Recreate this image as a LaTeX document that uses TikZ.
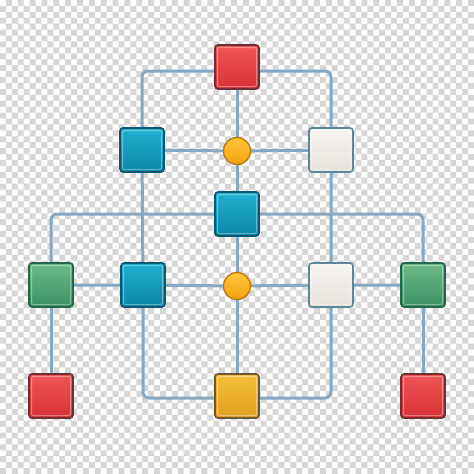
\documentclass[tikz,border=0pt]{standalone}
\usetikzlibrary{backgrounds}
\definecolor{chk}{HTML}{D6D6D6}
\definecolor{wire}{HTML}{86A8C2}
\definecolor{tealT}{HTML}{22B0CF}\definecolor{tealB}{HTML}{0C86A6}\definecolor{tealD}{HTML}{0D5870}
\definecolor{redT}{HTML}{F05555}\definecolor{redB}{HTML}{D83236}\definecolor{redD}{HTML}{6E2E36}
\definecolor{whT}{HTML}{F7F5F1}\definecolor{whB}{HTML}{E6E2DA}\definecolor{whD}{HTML}{5E8598}
\definecolor{grT}{HTML}{6DBB86}\definecolor{grB}{HTML}{3C9066}\definecolor{grD}{HTML}{24664C}
\definecolor{yeT}{HTML}{F4C23A}\definecolor{yeB}{HTML}{E19E1E}\definecolor{yeD}{HTML}{6A5638}
\definecolor{orT}{HTML}{FFC83A}\definecolor{orB}{HTML}{F2A012}\definecolor{orD}{HTML}{BE7A12}
\tikzset{
  x=1pt,y=-1pt,
  sq/.style={rectangle,minimum size=44pt,inner sep=0pt,rounded corners=3pt,line width=1.6pt,
    path picture={\draw[white,opacity=0.35,line width=1pt,rounded corners=2pt]
      ([shift={(2.5pt,-2.5pt)}]path picture bounding box.north west) rectangle
      ([shift={(-2.5pt,2.5pt)}]path picture bounding box.south east);}},
  tealbox/.style={sq,draw=tealD,top color=tealT,bottom color=tealB},
  redbox/.style={sq,draw=redD,top color=redT,bottom color=redB},
  whitebox/.style={sq,draw=whD,top color=whT,bottom color=whB},
  greenbox/.style={sq,draw=grD,top color=grT,bottom color=grB},
  yellowbox/.style={sq,draw=yeD,top color=yeT,bottom color=yeB},
  dot/.style={circle,minimum size=27pt,inner sep=0pt,line width=1.4pt,draw=orD,top color=orT,bottom color=orB},
  wireline/.style={draw=wire,line width=3pt,rounded corners=6pt,line cap=round},
}
\begin{document}
\begin{tikzpicture}
\useasboundingbox (0,0) rectangle (474,474);
% nodes
\node[redbox] (r1) at (237,67) {};
\node[tealbox] (t1) at (142,150) {};
\node[dot] (c1) at (237,151) {};
\node[whitebox] (w1) at (331,150) {};
\node[tealbox] (t2) at (237,214) {};
\node[greenbox] (g1) at (51,285) {};
\node[tealbox] (t3) at (143,285) {};
\node[dot] (c2) at (237,286) {};
\node[whitebox] (w2) at (331,285) {};
\node[greenbox] (g2) at (423,285) {};
\node[redbox] (r2) at (51,396) {};
\node[yellowbox] (y1) at (237,396) {};
\node[redbox] (r3) at (423,396) {};
\begin{pgfonlayer}{background}
\fill[white] (0,0) rectangle (474,474);
\fill[chk] foreach \i in {0,...,79}{ foreach \j in {0,...,79}{
  \ifodd\numexpr\i+\j\relax (\i*5.925,\j*5.925) rectangle ++(5.925,5.925) \fi }};
\path[wireline] ([yshift=-4pt]r1.center) -| (t1.center);
\path[wireline] ([yshift=-4pt]r1.center) -| (w1.center);
\path[wireline] (r1.center) -- (c1.center) -- (t2.center) -- (c2.center) -- (y1.center);
\path[wireline] (t1.center) -- (c1.center) -- (w1.center);
\path[wireline] (t1.center) -- (t3.center) |- ([yshift=-2pt]y1.center);
\path[wireline] (w1.center) -- (w2.center) |- ([yshift=-2pt]y1.center);
\path[wireline] (t2.center) -| (g1.center);
\path[wireline] (t2.center) -| (g2.center);
\path[wireline] (g1.center) -- (t3.center) -- (c2.center) -- (w2.center) -- (g2.center);
\path[wireline] (g1.center) -- (r2.center);
\path[wireline] (g2.center) -- (r3.center);
\end{pgfonlayer}
\end{tikzpicture}
\end{document}
